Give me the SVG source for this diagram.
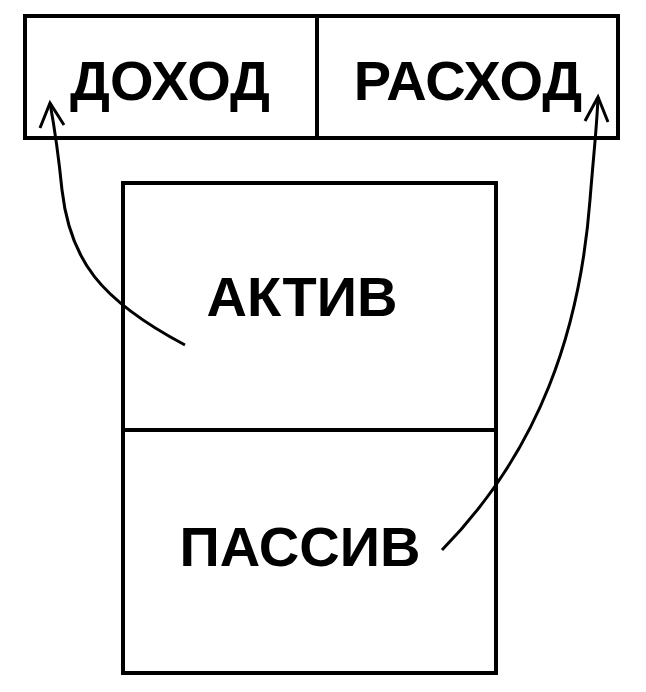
<svg xmlns="http://www.w3.org/2000/svg" width="646" height="692" viewBox="0 0 646 692">
<style>
.b{fill:none;stroke:#000;stroke-width:4}
.t{font-family:"Liberation Sans",Arial,sans-serif;font-weight:bold;font-size:56px;text-anchor:middle;fill:#000}
.c{fill:none;stroke:#000;stroke-width:3}
</style>
<rect width="646" height="692" fill="#fff"/>
<g id="top"><rect class="b" x="25" y="16" width="593" height="122"/><line class="b" x1="317" y1="16" x2="317" y2="138"/></g>
<g id="dohod"><text class="t" x="170" y="100">ДОХОД</text></g>
<g id="rashod"><text class="t" x="468" y="100">РАСХОД</text></g>
<g id="bottom"><rect class="b" x="123" y="183" width="373" height="490"/><line class="b" x1="123" y1="430" x2="496" y2="430"/></g>
<g id="aktiv"><text class="t" x="302" y="316">АКТИВ</text></g>
<g id="passiv"><text class="t" x="300" y="566">ПАССИВ</text></g>
<g id="connectors">
<path class="c" d="M185,345 C100,300 70,260 62,190 C58,150 54,125 50,103"/>
<path class="c" d="M40,128 L50,103 L64,125"/>
<path class="c" d="M442,550 C540,450 580,330 590,200 C594,150 597,125 598,97"/>
<path class="c" d="M585,121 L598,97 L608,122"/>
</g>
</svg>
